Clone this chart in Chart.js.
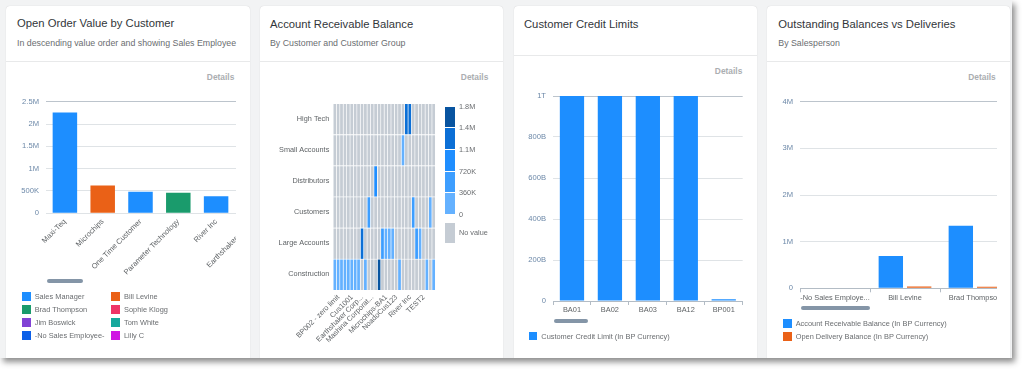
<!DOCTYPE html>
<html lang="en">
<head>
<meta charset="UTF-8">
<title>Customer dashboard</title>
<style>
  body { margin: 0; background: #fff; font-family: "Liberation Sans", Arial, sans-serif; }
  #page { position: absolute; left: 0; top: 0; width: 1012px; height: 358px; background: #f2f3f4; overflow: hidden; box-shadow: 3px 4px 6px rgba(0,0,0,0.45); }
  .card { position: absolute; top: 6px; height: 360px; background: #fff; border-radius: 4px; box-shadow: 0 0 1px rgba(0,0,0,0.2); }
  .title { position: absolute; font-size: 11.25px; line-height: 14px; color: #32363a; white-space: nowrap; }
  .sub { position: absolute; font-size: 8.8px; line-height: 11px; color: #6a6d70; white-space: nowrap; }
  .rule { position: absolute; height: 1px; background: #e8e9ea; }
  .details { position: absolute; font-size: 8.4px; line-height: 10px; font-weight: bold; color: #abaeb1; }
  .wrap { position: absolute; overflow: hidden; }
  .wrap canvas { position: absolute; left: 0; top: 0; }
  .thumb { position: absolute; height: 4px; border-radius: 2px; background: #8495a7; }
  .legend { position: absolute; display: grid; font-size: 7.4px; color: #6a6d70; }
  .legend .item { display: flex; align-items: center; height: 13.1px; white-space: nowrap; }
  .legend .box { width: 9px; height: 9px; margin-right: 4px; flex: none; }
  #heatLegend { position: absolute; left: 445px; top: 106.7px; font-size: 7.3px; color: #6a6d70; }
  #heatLegend div { position: absolute; white-space: nowrap; }
</style>
</head>
<body>
<div id="page">
  <div class="card" style="left:6px;width:244px"></div>
  <div class="card" style="left:260px;width:243px"></div>
  <div class="card" style="left:514px;width:243px"></div>
  <div class="card" style="left:767px;width:243px"></div>

  <div class="title" style="left:17px;top:16.3px">Open Order Value by Customer</div>
  <div class="sub" style="left:17px;top:37.5px">In descending value order and showing Sales Employee</div>
  <div class="rule" style="left:6px;width:244px;top:61px"></div>
  <div class="details" style="right:777.7px;top:72px">Details</div>

  <div class="title" style="left:270px;top:16.7px">Account Receivable Balance</div>
  <div class="sub" style="left:270px;top:37.5px">By Customer and Customer Group</div>
  <div class="rule" style="left:260px;width:243px;top:61px"></div>
  <div class="details" style="right:523.7px;top:72px">Details</div>

  <div class="title" style="left:524px;top:16.7px">Customer Credit Limits</div>
  <div class="rule" style="left:514px;width:243px;top:55px"></div>
  <div class="details" style="right:269.7px;top:65.7px">Details</div>

  <div class="title" style="left:778.3px;top:17px">Outstanding Balances vs Deliveries</div>
  <div class="sub" style="left:778.3px;top:37.5px">By Salesperson</div>
  <div class="rule" style="left:767px;width:243px;top:61px"></div>
  <div class="details" style="right:16.3px;top:72px">Details</div>

  <div class="wrap" style="left:6px;top:88px;width:230px;height:210px"><canvas id="c1" width="285" height="210"></canvas></div>
  <div class="wrap" style="left:260px;top:95px;width:240px;height:260px"><canvas id="c2" width="240" height="260"></canvas></div>
  <div class="wrap" style="left:514px;top:84px;width:240px;height:245px"><canvas id="c3" width="235" height="245"></canvas></div>
  <div class="wrap" style="left:767px;top:88px;width:230px;height:230px"><canvas id="c4" width="250" height="230"></canvas></div>

  <div class="thumb" style="left:46.7px;top:279.3px;width:36.6px"></div>
  <div class="thumb" style="left:554.3px;top:318.5px;width:34px"></div>
  <div class="thumb" style="left:800.7px;top:306px;width:69.3px"></div>

  <div class="legend" id="leg1" style="left:21.7px;top:290.1px;grid-template-columns:89.3px auto"></div>
  <div id="heatLegend"></div>
  <div class="legend" id="leg3" style="left:529px;top:329.5px"></div>
  <div class="legend" id="leg4" style="left:782.7px;top:316.9px"></div>
</div>

<script src="https://cdn.jsdelivr.net/npm/chart.js@4.4.1/dist/chart.umd.min.js"></script>
<script>
// open order value
const orderCustomers = ['Maxi-Teq', 'Microchips', 'One Time Customer', 'Parameter Technology', 'River Inc', 'Earthshaker Corporation'];
const orderValues = [2260000, 620000, 480000, 460000, 380000, 300000];
const orderEmployee = ['Sales Manager', 'Bill Levine', 'Sales Manager', 'Brad Thompson', 'Sales Manager', 'Sales Manager'];
const salesEmployees = ['Sales Manager', 'Bill Levine', 'Brad Thompson', 'Sophie Klogg', 'Jim Boswick', 'Tom White', '-No Sales Employee-', 'Lilly C'];

// account receivable heatmap
const heatCustomers = ['BA01', 'BP002 - zero limit', 'BP003', 'C20000', 'C23900', 'Cus1001', 'Cus1002', 'Dolphin Inc',
  'Earthshaker Corporation', 'Eastern Corp', 'Inno Tech', 'Mashina Corporation', 'Maxi-Teq', 'Mega Components',
  'Microchips', 'Microchips-BA1', 'Mobile Ltd', 'Nano Tech', 'NoadoCus123', 'One Time Customer', 'Parameter Technology',
  'Peak Systems', 'River Inc', 'Star Electronics', 'Sunrise Trading', 'Svenska AB', 'TEST2', 'Tech Solutions',
  'Unity Parts', 'Wide World'];
const heatLabelIndex = [1, 5, 8, 11, 15, 18, 22, 26];
const heatGroups = ['Construction', 'Large Accounts', 'Customers', 'Distributors', 'Small Accounts', 'High Tech'];
const _ = null;
const arConstruction = [200000, 150000, 230000, 120000, 260000, 170000, 140000, 110000, _, 90000, _, _, _, 1700000, _, _, _, _, _, 60000, _, _, _, _, _, _, _, 250000, _, 300000];
const arLargeAccounts = [_, _, _, _, _, _, _, _, 1380000, _, _, _, _, _, 600000, 300000, 330000, 280000, _, _, _, _, _, _, 550000, 320000, _, _, _, _];
const arCustomers = [_, _, _, _, _, _, _, _, _, _, 420000, _, _, _, _, _, _, _, _, _, _, _, _, 450000, _, _, _, _, 300000, _];
const arDistributors = [_, _, _, _, _, _, _, _, _, _, _, _, 850000, _, _, _, _, _, _, _, _, _, _, _, _, _, _, _, _, _];
const arSmallAccounts = [_, _, _, _, _, _, _, _, _, _, _, _, _, _, _, _, _, _, _, _, 200000, _, _, _, _, _, _, _, _, _];
const arHighTech = [_, _, _, _, _, _, _, _, _, _, _, _, _, _, _, _, _, _, _, _, _, 1300000, 1200000, _, _, _, _, _, _, _];
const heatSteps = [0, 360000, 720000, 1100000, 1400000, 1800000];

// credit limits
const creditCustomers = ['BA01', 'BA02', 'BA03', 'BA12', 'BP001'];
const creditLimits = [1e12, 1e12, 1e12, 1e12, 8e9];

// balances vs deliveries
const balancePeople = ['-No Sales Employee-', 'Bill Levine', 'Brad Thompson'];
const receivableBalance = [0, 690000, 1340000];
const deliveryBalance = [0, 38000, 34000];

const employeeColors = ['#1d8eff', '#ea6117', '#1a9b6c', '#ef3466', '#8142d5', '#16a89c', '#0b5fe8', '#cf14e3'];
const heatColors = ['#64b1ff', '#3d9eff', '#1f8eff', '#0b6fd6', '#0854a0'];
const noValue = '#c5ccd4';
const barBlue = '#1d8eff';
const barOrange = '#ea6117';
const tickBlue = '#6c88a8';
const labelGrey = '#5f6366';
const axisGrey = '#b3bcc5';

Chart.defaults.font.family = '"Liberation Sans", Arial, sans-serif';
Chart.defaults.font.size = 7.3;
Chart.defaults.color = labelGrey;

function fmt(v) {
  const r = x => Math.round(x * 10) / 10;
  if (v >= 1e12) return r(v / 1e12) + 'T';
  if (v >= 1e9) return r(v / 1e9) + 'B';
  if (v >= 1e6) return r(v / 1e6) + 'M';
  if (v >= 1e3) return r(v / 1e3) + 'K';
  return String(v);
}
function shorten(s, max, keep) {
  return s.length > max ? s.slice(0, keep) + '...' : s;
}
function heatColor(v) {
  if (v == null) return noValue;
  for (let i = heatColors.length - 1; i >= 0; i--) {
    if (v >= heatSteps[i]) return heatColors[i];
  }
  return heatColors[0];
}
const gridColor = c => (c.tick && c.tick.value === c.scale.max) ? '#bcc4cc' : '#dfe3e6';

function yAxis(max, step, width) {
  return {
    min: 0, max: max,
    ticks: { stepSize: step, padding: 7, color: tickBlue, font: { size: 7.6 }, callback: fmt },
    grid: { drawTicks: false, color: gridColor },
    border: { display: false },
    afterFit(s) { s.width = width; }
  };
}

function htmlLegend(chart, id, size) {
  const box = document.getElementById(id);
  chart.data.datasets.forEach(ds => {
    const item = document.createElement('div');
    item.className = 'item';
    const sw = document.createElement('span');
    sw.className = 'box';
    sw.style.background = ds.backgroundColor;
    if (size) { sw.style.width = size + 'px'; sw.style.height = size + 'px'; }
    item.appendChild(sw);
    item.appendChild(document.createTextNode(ds.label));
    box.appendChild(item);
  });
}

const base = {
  responsive: false,
  animation: false,
  plugins: { legend: { display: false }, tooltip: { enabled: false } }
};

// chart 1
const chart1 = new Chart(document.getElementById('c1'), {
  type: 'bar',
  data: {
    labels: orderCustomers,
    datasets: salesEmployees.map((name, k) => ({
      label: name,
      data: orderCustomers.map((c, i) => orderEmployee[i] === name ? orderValues[i] : null),
      backgroundColor: employeeColors[k],
      categoryPercentage: 0.8,
      barPercentage: 0.81
    }))
  },
  options: {
    ...base,
    layout: { padding: { top: 13.7, right: 18.2, bottom: 0, left: 0 } },
    scales: {
      x: {
        stacked: true,
        grid: { display: false, drawTicks: false },
        border: { display: false },
        ticks: { autoSkip: false, minRotation: 45, maxRotation: 45, padding: 4, font: { size: 7.5 },
          callback: (v, i) => shorten(orderCustomers[i], 20, 16) },
        afterFit(s) { s.height = 84.7; }
      },
      y: { stacked: true, ...yAxis(2500000, 500000, 40) }
    }
  }
});
htmlLegend(chart1, 'leg1');

// chart 2 heatmap, one stacked bar row per customer group
const heatRows = [arConstruction, arLargeAccounts, arCustomers, arDistributors, arSmallAccounts, arHighTech];
new Chart(document.getElementById('c2'), {
  type: 'bar',
  data: {
    labels: heatCustomers,
    datasets: heatGroups.map((g, r) => ({
      label: g,
      data: heatCustomers.map(() => 1),
      backgroundColor: heatRows[r].map(heatColor),
      borderColor: 'rgba(255,255,255,0.5)',
      borderWidth: { top: 1, right: 1, bottom: 0, left: 0 },
      borderSkipped: false,
      categoryPercentage: 1,
      barPercentage: 1
    }))
  },
  options: {
    ...base,
    layout: { padding: { top: 7, right: 64.3, bottom: 0, left: 0 } },
    scales: {
      x: {
        stacked: true,
        grid: { display: false, drawTicks: false },
        border: { display: false },
        ticks: { autoSkip: false, minRotation: 45, maxRotation: 45, padding: 3,
          callback: (v, i) => heatLabelIndex.includes(i) ? shorten(heatCustomers[i], 18, 16) : '' },
        afterFit(s) { s.height = 65; }
      },
      y: {
        stacked: true, min: 0, max: 6,
        afterBuildTicks(s) { s.ticks = heatGroups.map((g, i) => ({ value: i + 0.5 })); },
        ticks: { padding: 4, callback: v => heatGroups[Math.floor(v)] },
        grid: { display: false, drawTicks: false },
        border: { display: false },
        afterFit(s) { s.width = 73.3; }
      }
    }
  }
});

// heatmap colour legend
const hl = document.getElementById('heatLegend');
const step = 21.66;
for (let i = heatColors.length - 1; i >= 0; i--) {
  const b = document.createElement('div');
  b.style.cssText = `left:0;top:${(heatColors.length - 1 - i) * step}px;width:10px;height:${step - 1}px;background:${heatColors[i]}`;
  hl.appendChild(b);
}
for (let k = heatSteps.length - 1; k >= 0; k--) {
  const t = document.createElement('div');
  t.textContent = fmt(heatSteps[k]);
  t.style.cssText = `left:14px;top:${(heatSteps.length - 1 - k) * step - 5}px;line-height:10px`;
  hl.appendChild(t);
}
const nv = document.createElement('div');
nv.style.cssText = `left:0;top:116.3px;width:10px;height:20px;background:${noValue}`;
hl.appendChild(nv);
const nvt = document.createElement('div');
nvt.textContent = 'No value';
nvt.style.cssText = 'left:14px;top:121.3px;line-height:10px';
hl.appendChild(nvt);

const xTickAxis = (labels, keepMax, keep, height) => ({
  grid: { drawOnChartArea: false, drawTicks: true, tickLength: 4, color: axisGrey },
  border: { color: axisGrey },
  ticks: { autoSkip: false, maxRotation: 0, padding: 1, font: { size: 7.4 }, callback: (v, i) => shorten(labels[i], keepMax, keep) },
  afterFit(s) { s.height = height; }
});

// chart 3
const chart3 = new Chart(document.getElementById('c3'), {
  type: 'bar',
  data: {
    labels: creditCustomers,
    datasets: [{ label: 'Customer Credit Limit (In BP Currency)', data: creditLimits, backgroundColor: barBlue, categoryPercentage: 0.8, barPercentage: 0.8 }]
  },
  options: {
    ...base,
    layout: { padding: { top: 12, right: 6.3, bottom: 0, left: 0 } },
    scales: {
      x: xTickAxis(creditCustomers, 18, 17, 28),
      y: yAxis(1e12, 2e11, 39)
    }
  }
});
htmlLegend(chart3, 'leg3', 8.3);

// chart 4
const chart4 = new Chart(document.getElementById('c4'), {
  type: 'bar',
  data: {
    labels: balancePeople,
    datasets: [
      { label: 'Account Receivable Balance (In BP Currency)', data: receivableBalance, backgroundColor: barBlue, categoryPercentage: 0.81, barPercentage: 0.86 },
      { label: 'Open Delivery Balance (In BP Currency)', data: deliveryBalance, backgroundColor: barOrange, categoryPercentage: 0.81, barPercentage: 0.86 }
    ]
  },
  options: {
    ...base,
    layout: { padding: { top: 13.7, right: 7, bottom: 0, left: 0 } },
    scales: {
      x: xTickAxis(balancePeople, 18, 17, 29.7),
      y: yAxis(4e6, 1e6, 33)
    }
  }
});
htmlLegend(chart4, 'leg4');
</script>
</body>
</html>
